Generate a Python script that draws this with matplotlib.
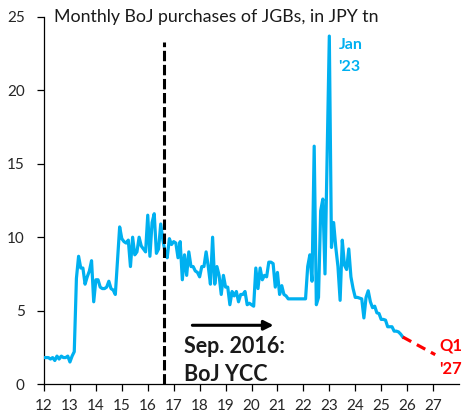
import matplotlib
matplotlib.use("Agg")
import matplotlib.pyplot as plt
import numpy as np

plt.rcParams['font.family'] = ['Lato', 'DejaVu Sans']

# Monthly BoJ JGB purchases, JPY tn (Jan of each year onwards)
v2012 = [1.8, 1.8, 1.8, 1.7, 1.8, 1.6, 1.9, 1.7, 1.9, 1.8, 1.8, 1.9]
v2013 = [1.5, 1.9, 2.2, 7.2, 8.7, 7.9, 7.9, 6.8, 7.3, 7.7, 8.4, 5.6]
v2014 = [7.1, 7.1, 6.6, 6.5, 6.5, 6.6, 7.0, 6.5, 6.4, 6.1, 8.4, 10.7]
v2015 = [9.9, 9.7, 9.6, 9.8, 8.0, 10.0, 8.8, 9.0, 10.0, 9.4, 9.2, 9.0]
v2016 = [11.5, 8.7, 11.0, 11.6, 8.9, 9.2, 10.9, 9.8, 9.0, 8.6, 9.9, 9.5]
v2017 = [9.7, 9.6, 8.6, 9.7, 7.1, 8.8, 7.4, 9.0, 8.0, 8.0, 7.7, 7.6]
v2018 = [7.3, 8.0, 8.0, 9.0, 8.0, 6.8, 10.0, 6.8, 8.0, 7.4, 6.1, 7.4]
v2019 = [6.6, 6.6, 5.4, 6.3, 6.0, 6.3, 5.6, 6.1, 6.1, 6.3, 5.4, 5.5]
v2020 = [5.4, 5.3, 7.9, 6.5, 7.9, 7.1, 7.4, 7.3, 8.3, 8.3, 8.2, 6.6]
v2021 = [7.6, 6.1, 6.7, 6.1, 6.0, 5.8, 5.8, 5.8, 5.8, 5.8, 5.8, 5.8]
v2022 = [5.8, 5.8, 8.0, 8.8, 7.0, 16.2, 5.4, 5.9, 11.8, 12.6, 7.5, 15.6]
v2023 = [23.7, 9.3, 11.0, 9.3, 8.0, 5.7, 9.8, 8.1, 7.8, 9.2, 7.3, 6.5]
v2024 = [5.9, 5.9, 5.85, 5.8, 4.5, 5.9, 6.35, 5.6, 5.2, 5.3, 4.85, 4.8]
v2025 = [4.4, 4.4, 4.35, 3.9, 3.9, 3.9, 3.6, 3.6, 3.55, 3.4, 3.2]

# Projection to Q1 2027
proj_x = [25 + 10 / 12, 27 + 1 / 12]
proj_y = [3.2, 2.0]

years = list(range(12, 28))
yticks = [0, 5, 10, 15, 20, 25]

series = [v2012, v2013, v2014, v2015, v2016, v2017, v2018, v2019,
          v2020, v2021, v2022, v2023, v2024, v2025]
vals = []
xs = []
for i, arr in enumerate(series):
    for m, v in enumerate(arr):
        xs.append(12 + i + m / 12)
        vals.append(v)

fig = plt.figure(figsize=(4.72, 4.18), dpi=100)
ax = fig.add_axes([44 / 472, 34 / 418, 415 / 472, 367 / 418])

ax.plot(xs, vals, color='#00B0F0', lw=2.3, solid_joinstyle='round', zorder=3)
ax.plot(proj_x, proj_y, color='#FF0000', lw=2.3, dashes=(3, 2), zorder=3)

ax.plot([16.62, 16.62], [0, 23.3], color='black', lw=2.2, dashes=(3.4, 1.2), zorder=4)

ax.set_xlim(12, 28)
ax.set_ylim(0, 25)
ax.set_xticks(years)
ax.set_xticklabels([str(y) for y in years])
ax.set_yticks(yticks)
for s in ['top', 'right']:
    ax.spines[s].set_visible(False)
for s in ['left', 'bottom']:
    ax.spines[s].set_linewidth(0.9)
    ax.spines[s].set_color('black')
ax.tick_params(axis='both', direction='out', length=5, width=0.9, color='black',
               labelsize=11, labelcolor='#262626')
ax.tick_params(axis='x', pad=6)
ax.tick_params(axis='y', pad=9)

fig.text(54 / 472, 1 - 17 / 418, 'Monthly BoJ purchases of JGBs, in JPY tn',
         fontsize=12.8, color='#1a1a1a', ha='left', va='center')

ax.text(23.35, 23.1, 'Jan', color='#00B0F0', fontsize=11.5, fontweight='bold', ha='left', va='center')
ax.text(23.35, 21.6, "'23", color='#00B0F0', fontsize=11.5, fontweight='bold', ha='left', va='center')

ax.annotate('', xy=(20.85, 4.0), xytext=(17.72, 4.0),
            arrowprops=dict(arrowstyle='-|>', color='black', lw=2.2,
                            mutation_scale=14, shrinkA=0, shrinkB=0))
ax.text(17.39, 2.55, 'Sep. 2016:', color='#1a1a1a', fontsize=15.5, fontweight='bold', ha='left', va='center')
ax.text(17.39, 0.68, 'BoJ YCC', color='#1a1a1a', fontsize=15.5, fontweight='bold', ha='left', va='center')

ax.text(27.25, 2.6, 'Q1', color='#FF0000', fontsize=12, fontweight='bold', ha='left', va='center')
ax.text(27.25, 1.0, "'27", color='#FF0000', fontsize=12, fontweight='bold', ha='left', va='center')

fig.savefig('out.png', dpi=100)
